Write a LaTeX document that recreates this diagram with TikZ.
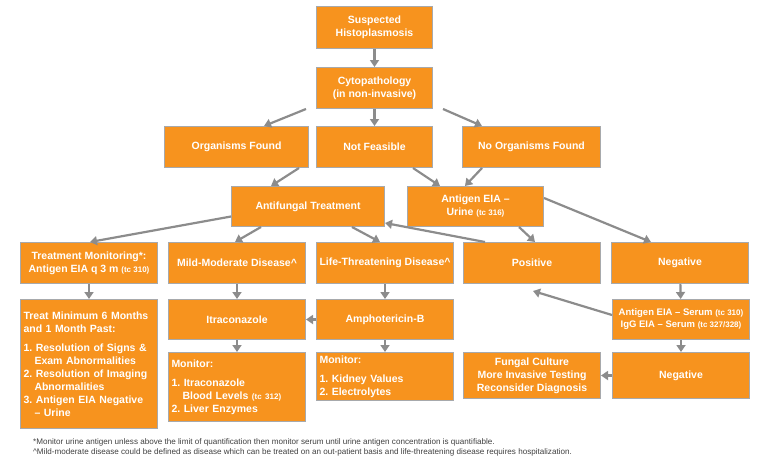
\documentclass[tikz,border=0pt]{standalone}
\usepackage{fontspec}
\setmainfont{Liberation Sans}
\usetikzlibrary{arrows.meta}
\definecolor{org}{HTML}{F7931E}
\definecolor{gbd}{HTML}{A7A9AC}
\definecolor{arr}{HTML}{8C8C8C}
\tikzset{
 box/.style={draw=gbd,line width=1pt,fill=org,text=white,font=\bfseries\fontsize{10.5}{13}\selectfont,align=center,inner sep=2pt,anchor=north west},
 lbox/.style={box,align=left,text width=#1},
 ar/.style={draw=arr,line width=2.2pt,-{Triangle[length=7pt,width=9pt]}}
}
\newcommand{\tc}[1]{{\fontsize{8}{10}\selectfont #1}}
\frenchspacing
\begin{document}
\begin{tikzpicture}[x=1pt,y=-1pt]
\useasboundingbox (0,0) rectangle (768,466);
\node[box,minimum width=116pt,minimum height=42pt] (s) at (316,6) {Suspected\\Histoplasmosis};
\node[box,minimum width=116pt,minimum height=41pt] (c) at (316,67) {Cytopathology\\(in non-invasive)};
\node[box,minimum width=144pt,minimum height=41pt] (of) at (164,126) {Organisms Found};
\node[box,minimum width=116pt,minimum height=41pt] (nf) at (316,126) {Not Feasible};
\node[box,minimum width=138pt,minimum height=41pt] (nof) at (462,126) {No Organisms Found};
\node[box,minimum width=153pt,minimum height=40pt] (af) at (231,186) {Antifungal Treatment};
\node[box,minimum width=136pt,minimum height=40pt] (au) at (407,186) {Antigen EIA --\\Urine \tc{(tc 316)}};
\node[box,minimum width=137pt,minimum height=41pt] (tm) at (20,242) {Treatment Monitoring*:\\Antigen EIA q 3 m \tc{(tc 310)}};
\node[box,minimum width=137pt,minimum height=41pt] (mm) at (168,242) {Mild-Moderate Disease\textasciicircum};
\node[box,minimum width=137pt,minimum height=41pt] (lt) at (316,242) {Life-Threatening Disease\textasciicircum};
\node[box,minimum width=137pt,minimum height=41pt] (pos) at (463,242) {Positive};
\node[box,minimum width=137pt,minimum height=41pt] (neg) at (611,242) {Negative};
\node[lbox=131pt,minimum height=129pt,inner sep=3pt] (tmin) at (20,299) {Treat Minimum 6 Months\\and 1 Month Past:\\[6pt]
1. Resolution of Signs \&\\\hspace*{11pt}Exam Abnormalities\\2. Resolution of Imaging\\\hspace*{11pt}Abnormalities\\3. Antigen EIA Negative\\\hspace*{11pt}-- Urine\\[-2pt]};
\node[box,minimum width=137pt,minimum height=40pt] (itra) at (168,299) {Itraconazole};
\node[box,minimum width=137pt,minimum height=40pt] (amp) at (316,299) {Amphotericin-B};
\node[box,minimum width=137pt,minimum height=40pt,font=\bfseries\fontsize{9.5}{12}\selectfont] (ser) at (612,299) {Antigen EIA -- Serum \tc{(tc 310)}\\IgG EIA -- Serum \tc{(tc 327/328)}};
\node[lbox=131pt,minimum height=69pt,inner sep=3pt] (mi) at (168,352) {Monitor:\\[6pt]1. Itraconazole\\\hspace*{11pt}Blood Levels \tc{(tc 312)}\\2. Liver Enzymes};
\node[lbox=131pt,minimum height=48pt,inner sep=3pt] (mk) at (316,352) {Monitor:\\[6pt]1. Kidney Values\\2. Electrolytes};
\node[box,minimum width=137pt,minimum height=46pt] (fc) at (463,352) {Fungal Culture\\More Invasive Testing\\Reconsider Diagnosis};
\node[box,minimum width=137pt,minimum height=46pt] (neg2) at (612,352) {Negative};
\node[anchor=north west,inner sep=0pt,align=left,text=black!75,font=\fontsize{8.1}{10.5}\selectfont] (fn) at (33,438) {*Monitor urine antigen unless above the limit of quantification then monitor serum until urine antigen concentration is quantifiable.\\\textasciicircum Mild-moderate disease could be defined as disease which can be treated on an out-patient basis and life-threatening disease requires hospitalization.};
\draw[ar] (s) -- (c);
\draw[ar] ([xshift=-10pt]c.south west) -- ([xshift=100pt]of.north west);
\draw[ar] (c) -- (nf);
\draw[ar] ([xshift=10pt]c.south east) -- ([xshift=20pt]nof.north west);
\draw[ar] ([xshift=-10pt]of.south east) -- ([xshift=40pt]af.north west);
\draw[ar] ([xshift=-20pt]nf.south east) -- ([xshift=33pt]au.north west);
\draw[ar] ([xshift=20pt]nof.south west) -- ([xshift=58pt]au.north west);
\draw[ar] (af.west) ++(0,-10pt) -- ([xshift=70pt]tm.north west);
\draw[ar] ([xshift=30pt]af.south west) -- ([xshift=67pt]mm.north west);
\draw[ar] ([xshift=-33pt]af.south east) -- ([xshift=64pt]lt.north west);
\draw[ar] ([xshift=-25pt]au.south east) -- ([xshift=72pt]pos.north west);
\draw[ar] ([yshift=-12pt]au.north east) -- ([xshift=40pt]neg.north west);
\draw[ar] ([xshift=22pt]pos.north west) -- ([yshift=4pt]af.south east);
\draw[ar] (tm) -- (tmin);
\draw[ar] (mm) -- (itra);
\draw[ar] (lt) -- (amp);
\draw[ar] (amp) -- (itra);
\draw[ar] (itra) -- (mi);
\draw[ar] (amp.south) -- (amp.south |- mk.north);
\draw[ar] (neg) -- (ser);
\draw[ar] ([yshift=-16pt]ser.north west) -- ([xshift=70pt,yshift=-7pt]pos.south west);
\draw[ar] (ser) -- (neg2);
\draw[ar] (neg2) -- (fc);
\end{tikzpicture}
\end{document}
